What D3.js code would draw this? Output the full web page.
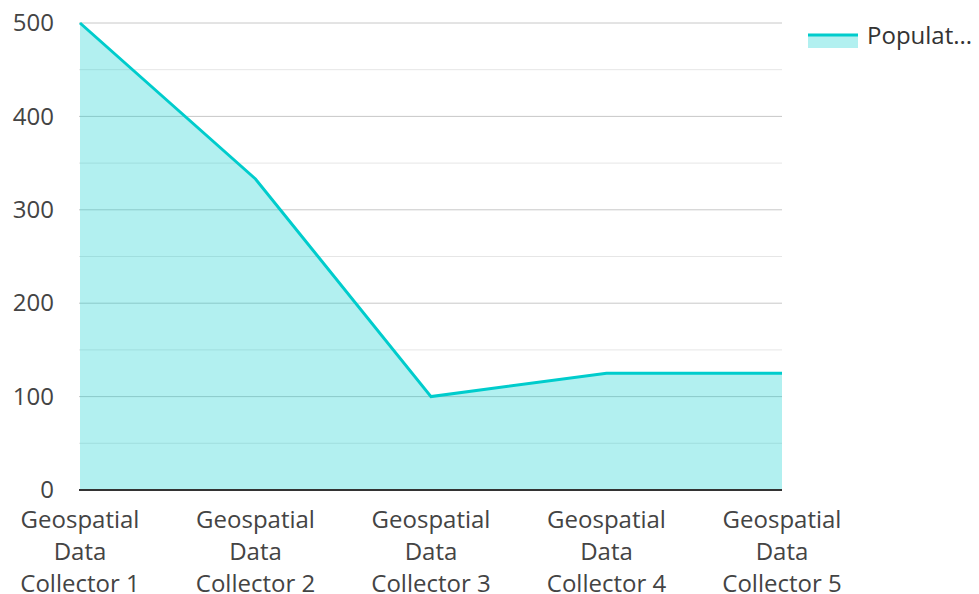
<!DOCTYPE html>
<html>
<head>
<meta charset="utf-8">
<script src="https://cdn.jsdelivr.net/npm/d3@7"></script>
<style>
  body { margin: 0; background: #fff; }
  text { font-family: "Open Sans", "Noto Sans", sans-serif; }
</style>
</head>
<body>
<div id="chart"></div>
<script>
var categories = ["Geospatial Data Collector 1", "Geospatial Data Collector 2", "Geospatial Data Collector 3", "Geospatial Data Collector 4", "Geospatial Data Collector 5"];
var population = [500, 333, 100, 125, 125];
var yTicks = [0, 100, 200, 300, 400, 500];
var minorTicks = [50, 150, 250, 350, 450];
var seriesName = "Populat...";

var w = 979, h = 594;
var padL = 80, padR = 782, padT = 23, padB = 490;

var svg = d3.select("#chart").append("svg")
            .attr("width", w)
            .attr("height", h);

var x = d3.scalePoint().domain(categories).range([padL, padR]);
var y = d3.scaleLinear().domain([0, 500]).range([padB, padT]);

// minor grid
svg.selectAll("line.minor")
   .data(minorTicks)
   .enter()
   .append("line")
   .attr("class", "minor")
   .attr("x1", padL - 1).attr("x2", padR)
   .attr("y1", function(d) { return y(d); })
   .attr("y2", function(d) { return y(d); })
   .attr("stroke", "#e6e6e6")
   .attr("stroke-width", 1);

// major grid
svg.selectAll("line.major")
   .data(yTicks.slice(1))
   .enter()
   .append("line")
   .attr("class", "major")
   .attr("x1", padL - 1).attr("x2", padR)
   .attr("y1", function(d) { return y(d); })
   .attr("y2", function(d) { return y(d); })
   .attr("stroke", "#c8c8c8")
   .attr("stroke-width", 1);

var area = d3.area()
             .x(function(d, i) { return x(categories[i]); })
             .y0(y(0))
             .y1(function(d) { return y(d); });

var line = d3.line()
             .x(function(d, i) { return x(categories[i]); })
             .y(function(d) { return y(d); });

svg.append("path")
   .datum(population)
   .attr("d", area)
   .style("fill", "#00cccc")
   .style("opacity", 0.3);

svg.append("path")
   .datum(population)
   .attr("d", line)
   .attr("fill", "none")
   .attr("stroke", "#00cccc")
   .attr("stroke-width", 3);

// y labels
var yAxis = d3.axisLeft(y).tickValues(yTicks).tickSize(0).tickPadding(26);
var gy = svg.append("g").attr("transform", "translate(" + padL + ",0)").call(yAxis);
gy.select(".domain").remove();
gy.selectAll("text")
  .attr("font-size", 24)
  .attr("fill", "#444")
  .attr("font-family", "'Open Sans', sans-serif");

// x axis line
svg.append("line")
   .attr("x1", padL - 1).attr("x2", padR)
   .attr("y1", padB).attr("y2", padB)
   .attr("stroke", "#333")
   .attr("stroke-width", 2);

// x labels, wrapped in three lines
categories.forEach(function(c) {
  var parts = ["Geospatial", "Data", c.replace("Geospatial Data ", "")];
  var t = svg.append("text")
             .attr("text-anchor", "middle")
             .attr("font-size", 24)
             .attr("fill", "#444");
  parts.forEach(function(p, i) {
    t.append("tspan")
     .attr("x", x(c))
     .attr("y", 528 + i * 32)
     .text(p);
  });
});

// legend
svg.append("rect")
   .attr("x", 808).attr("y", 35)
   .attr("width", 50).attr("height", 13)
   .style("fill", "#00cccc")
   .style("opacity", 0.3);
svg.append("line")
   .attr("x1", 808).attr("x2", 858)
   .attr("y1", 35).attr("y2", 35)
   .attr("stroke", "#00cccc")
   .attr("stroke-width", 3);
svg.append("text")
   .attr("x", 867).attr("y", 44)
   .attr("font-size", 24)
   .attr("fill", "#333")
   .text(seriesName);
</script>
</body>
</html>
